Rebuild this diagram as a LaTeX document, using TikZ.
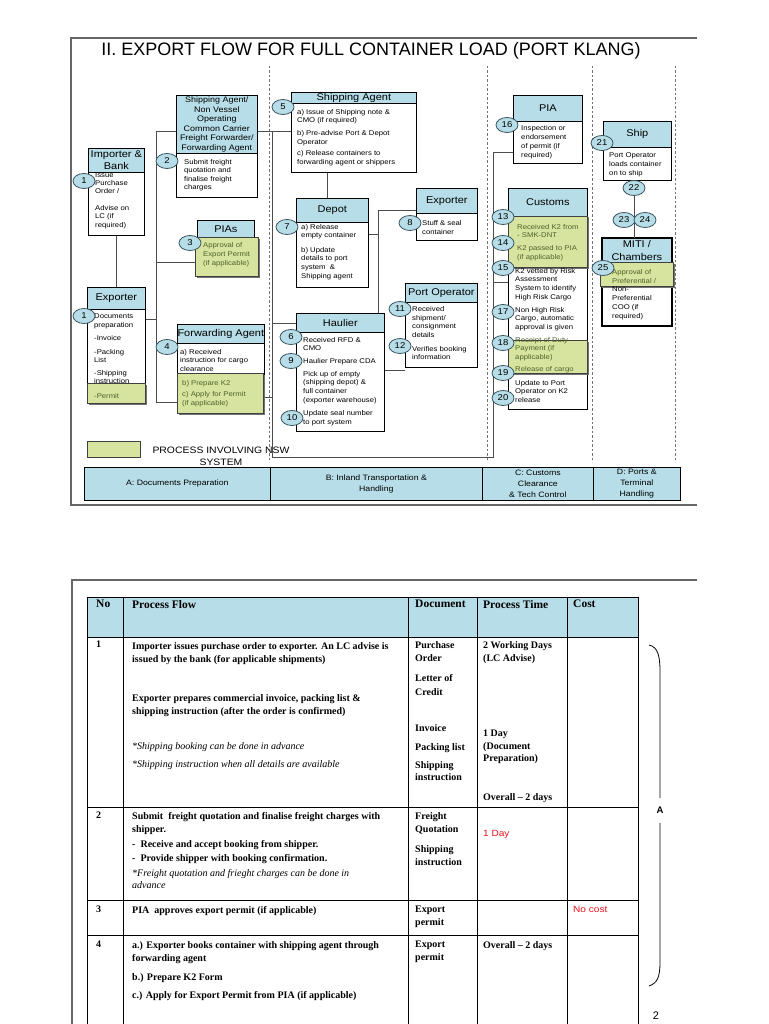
\documentclass[tikz,border=0pt]{standalone}
\usepackage{fontspec}
\setmainfont{Liberation Serif}
\newfontfamily\dfont{Liberation Sans}[FakeStretch=1.12]
\newfontfamily\sfont{Liberation Sans}
\usetikzlibrary{shapes.geometric}
\definecolor{hdrc}{HTML}{B7DEE8}
\definecolor{grnc}{HTML}{D7E4A0}
\definecolor{gtc}{HTML}{4F6228}
\definecolor{numd}{HTML}{3A5560}
\definecolor{redt}{HTML}{E8131A}
\newcommand\bodyf{\dfont\fontsize{6.9}{8.6}\selectfont}
\newcommand\mybox[8][]{%
  \node[boxst, minimum width=#5pt, minimum height=#6pt] (#2) at (#3,#4) {};
  \node[hdr, minimum width=#5pt, minimum height=#7pt, #1] (#2h) at (#3,#4) {#8};}
\newcommand\grbox[5]{%
  \fill[black!55] (#2+1.5,#3+1.5) rectangle ++(#4,#5);
  \node[grn, minimum width=#4pt, minimum height=#5pt] (#1) at (#2,#3) {};}
\tikzset{
 boxst/.style={draw=black, line width=0.7pt, fill=white, inner sep=0pt, anchor=north west},
 hdr/.style={draw=black, line width=0.7pt, fill=hdrc, inner sep=0pt, anchor=north west, align=center, font=\dfont\fontsize{9.8}{11.5}\selectfont},
 grn/.style={draw=black!75, line width=0.7pt, fill=grnc, inner sep=0pt, anchor=north west},
 btx/.style={anchor=north west, inner sep=0pt, align=left, font=\bodyf},
 lead/.style={font=\dfont\fontsize{6.9}{#1}\selectfont},
 gt/.style={text=gtc},
 num/.style={ellipse, draw=numd, fill=hdrc, line width=0.8pt, minimum width=22pt, minimum height=15pt, inner sep=0pt, font=\dfont\fontsize{8.5}{9}\selectfont},
 conn/.style={draw=black!70, line width=0.8pt},
 sep/.style={draw=black!55, dash pattern=on 2.5pt off 2pt, line width=1pt},
 frm/.style={draw=black!60, line width=1.6pt},
 band/.style={draw=black, line width=0.7pt, fill=hdrc, anchor=north west, inner sep=1pt, align=center, minimum height=33pt, font=\dfont\fontsize{7.8}{11}\selectfont},
 tt/.style={anchor=north west, inner sep=0pt, align=left, font=\bfseries\fontsize{10}{13.5}\selectfont},
 tlead/.style={font=\bfseries\fontsize{10}{#1}\selectfont},
 ti/.style={anchor=north west, inner sep=0pt, align=left, font=\itshape\fontsize{10}{18}\selectfont},
 th/.style={anchor=north west, inner sep=0pt, font=\bfseries\fontsize{11.5}{13}\selectfont},
 rtx/.style={anchor=north west, inner sep=0pt, text=redt, font=\dfont\fontsize{9}{10}\selectfont},
 tl/.style={draw=black, line width=0.8pt},
}
\begin{document}
\begin{tikzpicture}[x=1pt,y=-1pt]
\useasboundingbox (0,0) rectangle (768,1024);
\fill[white] (0,0) rectangle (768,1024);
% ---------- top frame ----------
\draw[frm] (697,38) -- (71,38) -- (71,505) -- (697,505);
\node[font=\sfont\fontsize{18}{20}\selectfont, inner sep=0pt] (title) at (371,51) {II. EXPORT FLOW FOR FULL CONTAINER LOAD (PORT KLANG)};
\foreach \xx in {269,487,592,675} \draw[sep] (\xx,66) -- (\xx,462);
% ---------- boxes ----------
\mybox{imp}{88}{148}{56}{87}{24}{Importer \&\\Bank}
\mybox[font=\dfont\fontsize{8}{9.6}\selectfont]{nvo}{176}{95}{81}{102}{58}{Shipping Agent/\\Non Vessel\\Operating\\Common Carrier\\Freight Forwarder/\\Forwarding Agent}
\mybox{pias}{197}{220}{57}{56}{17}{PIAs}
\mybox{expA}{87}{287}{58}{116}{22}{Exporter}
\mybox{fwd}{177}{324}{87}{89}{19}{Forwarding Agent}
\mybox{shp}{291}{92}{125}{80}{11}{Shipping Agent}
\mybox{dep}{296}{198}{72}{89}{24}{Depot}
\mybox{expB}{416}{188}{61}{52}{25}{Exporter}
\mybox{por}{405}{283}{72}{84}{19}{Port Operator}
\mybox{hau}{296}{313}{88}{118}{19}{Haulier}
\mybox{pia}{513}{95}{69}{68}{26}{PIA}
\mybox{cus}{508}{188}{79}{221}{28}{Customs}
\mybox{ship}{603}{121}{68}{59}{26}{Ship}
\mybox[font=\dfont\fontsize{9.8}{12.5}\selectfont]{miti}{602}{238}{69}{87}{24}{MITI /\\Chambers}
\draw[line width=1.8pt] (miti.north west) rectangle (miti.south east);
% ---------- green (NSW) areas ----------
\grbox{piasg}{195}{237}{63}{39}
\grbox{expAg}{87}{383}{58}{20}
\grbox{fwdg}{177}{373}{86}{40}
\grbox{cusg1}{508}{216}{79}{51}
\grbox{cusg2}{508}{340}{79}{33}
\grbox{mitig}{600}{262}{73}{24}
% ---------- connectors ----------
\draw[conn] (imp.south) -- (expA.north);
\coordinate (ja1) at (156,131);
\coordinate (ja2) at (156,402);
\coordinate (ja3) at (156,262);
\coordinate (ja4) at (156,319);
\draw[conn] (ja1 -| nvo.west) -- (ja1) -- (ja2) -- (ja2 -| fwd.west);
\draw[conn] (ja3) -- (ja3 -| piasg.west);
\draw[conn] (ja4 -| expA.east) -- (ja4);
\coordinate (jb1) at (272,131);
\coordinate (jb2) at (272,457);
\coordinate (jb3) at (493,457);
\coordinate (jb4) at (493,152);
\coordinate (jb5) at (272,323);
\coordinate (jb6) at (272,397);
\coordinate (jb7) at (493,282);
\draw[conn] (jb1 -| nvo.east) -- (jb1 -| shp.west);
\draw[conn] (jb1) -- (jb2) -- (jb3) -- (jb4) -- (jb4 -| pia.west);
\draw[conn] (jb5) -- (jb5 -| hau.west);
\draw[conn] (jb6 -| fwd.east) -- (jb6);
\draw[conn] (jb7) -- (jb7 -| cus.west);
\coordinate (jc1) at (327,180);
\coordinate (jc2) at (378,234);
\coordinate (jc3) at (378,210);
\coordinate (jc4) at (390,370);
\draw[conn] (jc1 |- shp.south) -- (jc1 |- dep.north);
\draw[conn] (jc2 -| dep.east) -- (jc2);
\draw[conn] (jc3 -| expB.west) -- (jc3) -- (jc3 |- hau.north);
\draw[conn] (jc4 -| hau.east) -- (jc4 -| por.west);
\coordinate (jd) at (634,200);
\draw[conn] (jd |- ship.south) -- (jd |- miti.north);
% ---------- texts ----------
\node[btx, lead=8] (t1) at (95,173) {Issue\\Purchase\\Order /};
\node[btx, lead=8.5] (t2) at (95,205) {Advise on\\LC (if\\required)};
\node[btx] (t3) at (184,159) {Submit freight\\quotation and\\finalise freight\\charges};
\node[btx, gt, lead=9] (t4) at (203,242) {Approval of\\Export Permit\\(if applicable)};
\node[btx, lead=9] (t5) at (94,314) {Documents\\preparation};
\node[btx] (t6) at (94,335) {-Invoice};
\node[btx] (t7) at (94,349) {-Packing\\List};
\node[btx] (t8) at (94,370) {-Shipping\\instruction};
\node[btx, gt] (t9) at (94,393) {-Permit};
\node[btx] (t10) at (180,349) {a) Received\\instruction for cargo\\clearance};
\node[btx, gt] (t11) at (182,380) {b) Prepare K2};
\node[btx, gt, lead=9] (t12) at (182,391) {c) Apply for Permit\\(if applicable)};
\node[btx] (t13) at (297,109) {a) Issue of Shipping note \&\\CMO (if required)};
\node[btx, lead=9] (t14) at (297,130) {b) Pre-advise Port \& Depot\\Operator};
\node[btx, lead=9.5] (t15) at (297,150) {c) Release containers to\\forwarding agent or shippers};
\node[btx] (t16) at (301,224) {a) Release\\empty container};
\node[btx] (t17) at (301,247) {b) Update\\details to port\\system \ \&\\Shipping agent};
\node[btx, lead=9] (t18) at (422,220) {Stuff \& seal\\container};
\node[btx] (t19) at (303,337) {Received RFD \&\\CMO};
\node[btx] (t20) at (303,358) {Haulier Prepare CDA};
\node[btx] (t21) at (303,371) {Pick up of empty\\(shipping depot) \&\\full container\\(exporter warehouse)};
\node[btx, lead=9] (t22) at (303,410) {Update seal number\\to port system};
\node[btx, lead=8.8] (t23) at (412,306) {Received\\shipment/\\consignment\\details};
\node[btx] (t24) at (412,346) {Verifies booking\\information};
\node[btx, lead=9] (t25) at (521,125) {Inspection or\\endorsement\\of permit (if\\required)};
\node[btx, gt] (t26) at (517,224) {Received K2 from\\- SMK-DNT};
\node[btx, gt, lead=9.5] (t27) at (517,245) {K2 passed to PIA\\(if applicable)};
\node[btx, lead=8.7] (t28) at (515,268) {K2 vetted by Risk\\Assessment\\System to identify\\High Risk Cargo};
\node[btx] (t29) at (515,307) {Non High Risk\\Cargo, automatic\\approval is given};
\node[btx, gt] (t30) at (515,337) {Receipt of Duty\\Payment (if\\applicable)};
\node[btx, gt] (t31) at (515,366) {Release of cargo};
\node[btx] (t32) at (515,380) {Update to Port\\Operator on K2\\release};
\node[btx, lead=9] (t33) at (609,152) {Port Operator\\loads container\\on to ship};
\node[btx, gt, lead=9] (t34) at (612,269) {Approval of\\Preferential /};
\node[btx, lead=9] (t35) at (612,287) {Non-\\Preferential\\COO (if\\required)};
% ---------- numbers ----------
\node[num] (c1a) at (84,181) {1};
\node[num] (c2) at (167,161) {2};
\node[num] (c3) at (190,243) {3};
\node[num] (c1b) at (84,316) {1};
\node[num] (c4) at (167,347) {4};
\node[num] (c5) at (283,107) {5};
\node[num] (c7) at (287,227) {7};
\node[num] (c8) at (410,223) {8};
\node[num] (c6) at (291,337) {6};
\node[num] (c9) at (291,361) {9};
\node[num] (c10) at (292,418) {10};
\node[num] (c11) at (400,309) {11};
\node[num] (c12) at (400,346) {12};
\node[num] (c16) at (507,125) {16};
\node[num] (c21) at (602,143) {21};
\node[num] (c22) at (634,188) {22};
\node[num] (c23) at (624,220) {23};
\node[num] (c24) at (645,220) {24};
\node[num] (c13) at (503,217) {13};
\node[num] (c14) at (503,243) {14};
\node[num] (c15) at (503,268) {15};
\node[num] (c25) at (603,268) {25};
\node[num] (c17) at (503,312) {17};
\node[num] (c18) at (503,343) {18};
\node[num] (c19) at (503,373) {19};
\node[num] (c20) at (503,398) {20};
% ---------- legend and band ----------
\node[grn, minimum width=53pt, minimum height=16pt] (leg) at (87,441) {};
\node[align=center, font=\dfont\fontsize{9.3}{12}\selectfont, inner sep=0pt] (legt) at (221,456) {PROCESS INVOLVING NSW\\SYSTEM};
\node[band, minimum width=186pt] (bA) at (84,467) {A: Documents Preparation};
\node[band, minimum width=212pt] (bB) at (270,467) {B: Inland Transportation \&\\Handling};
\node[band, minimum width=111pt] (bC) at (482,467) {C: Customs\\Clearance\\\& Tech Control};
\node[band, minimum width=87pt] (bD) at (593,467) {D: Ports \&\\Terminal\\Handling};
% ---------- table ----------
\draw[frm] (697,580) -- (72,580) -- (72,1024);
\fill[hdrc] (87,597) rectangle (638,637);
\foreach \yy in {597,637,807,900,935} \draw[tl] (87,\yy) -- (638,\yy);
\foreach \xx in {87,123,408,477,567,638} \draw[tl] (\xx,597) -- (\xx,1024);
\node[th] (h1) at (96,600) {No};
\node[th] (h2) at (132,600) {Process Flow};
\node[th] (h3) at (415,600) {Document};
\node[th] (h4) at (483,600) {Process Time};
\node[th] (h5) at (573,600) {Cost};
% row 1
\node[tt] (r1n) at (96,641) {1};
\node[tt] (r1a) at (132,642) {Importer issues purchase order to exporter. An LC advise is\\issued by the bank (for applicable shipments)};
\node[tt] (r1b) at (132,694) {Exporter prepares commercial invoice, packing list \&\\shipping instruction (after the order is confirmed)};
\node[ti] (r1c) at (132,742) {*Shipping booking can be done in advance\\*Shipping instruction when all details are available};
\node[tt, tlead=13] (r1d) at (415,641) {Purchase\\Order};
\node[tt, tlead=14] (r1e) at (415,674) {Letter of\\Credit};
\node[tt] (r1f) at (415,724) {Invoice};
\node[tt] (r1g) at (415,743) {Packing list};
\node[tt, tlead=12] (r1h) at (415,761) {Shipping\\instruction};
\node[tt, tlead=13] (r1i) at (483,641) {2 Working Days\\(LC Advise)};
\node[tt, tlead=12.5] (r1j) at (483,730) {1 Day\\(Document\\Preparation)};
\node[tt] (r1k) at (483,793) {Overall – 2 days};
% row 2
\node[tt] (r2n) at (96,812) {2};
\node[tt, tlead=13.5] (r2a) at (132,812) {Submit \ freight quotation and finalise freight charges with\\shipper.};
\node[tt, tlead=14.5] (r2b) at (132,840) {- \ Receive and accept booking from shipper.\\- \ Provide shipper with booking confirmation.};
\node[ti, font=\itshape\fontsize{10}{12.5}\selectfont] (r2c) at (132,869) {*Freight quotation and frieght charges can be done in\\advance};
\node[tt, tlead=13] (r2d) at (415,812) {Freight\\Quotation};
\node[tt, tlead=13] (r2e) at (415,845) {Shipping\\instruction};
\node[rtx] (r2f) at (483,830) {1 Day};
% row 3
\node[tt] (r3n) at (96,906) {3};
\node[tt] (r3a) at (132,906) {PIA \ approves export permit (if applicable)};
\node[tt, tlead=13] (r3b) at (415,906) {Export\\permit};
\node[rtx] (r3c) at (573,906) {No cost};
% row 4
\node[tt] (r4n) at (96,941) {4};
\node[tt, tlead=13.5] (r4a) at (132,941) {a.) Exporter books container with shipping agent through\\forwarding agent};
\node[tt] (r4b) at (132,973) {b.) Prepare K2 Form};
\node[tt] (r4c) at (132,991) {c.) Apply for Export Permit from PIA (if applicable)};
\node[tt, tlead=13] (r4d) at (415,941) {Export\\permit};
\node[tt] (r4e) at (483,941) {Overall – 2 days};
% brace and labels
\node[font=\sfont\bfseries\fontsize{9.5}{10}\selectfont, inner sep=0pt] (lblA) at (660,810) {A};
\coordinate (bt) at (649,645);
\coordinate (bb) at (649,986);
\draw[line width=0.8pt] (bt) .. controls (658,647) and (660,656) .. (660,672) -- (660,798);
\draw[line width=0.8pt] (660,823) -- (660,962) .. controls (660,978) and (657,983) .. (bb);
\node[font=\sfont\fontsize{11}{12}\selectfont, inner sep=0pt] (pg) at (656,1016) {2};
\end{tikzpicture}
\end{document}
